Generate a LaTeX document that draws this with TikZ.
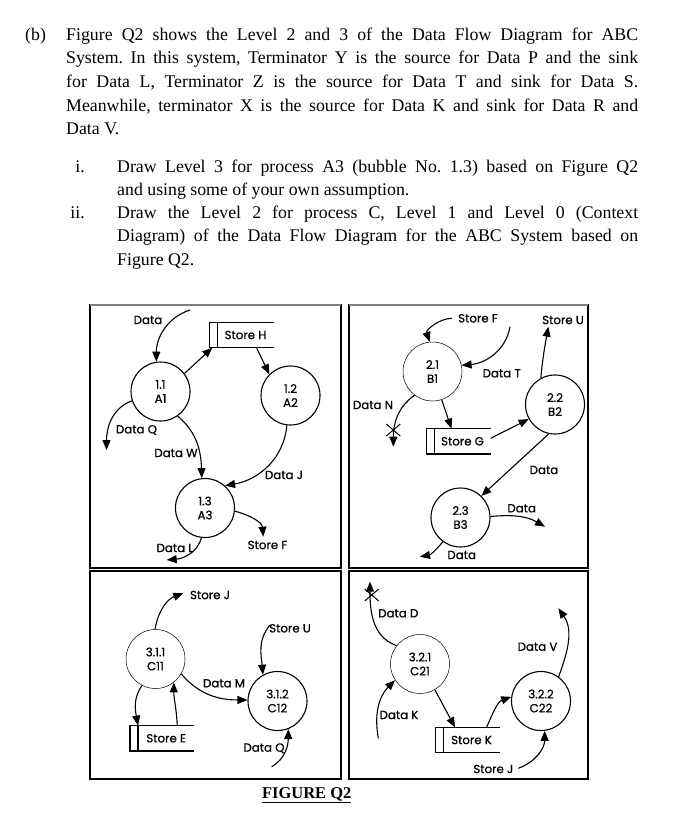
\documentclass[tikz,border=0pt]{standalone}
\usepackage{fontspec}
\setmainfont{Liberation Serif}
\newfontfamily\dfdfont[FakeBold=0.7]{Poppins}
\usetikzlibrary{arrows.meta}
\frenchspacing

\tikzset{
  >={Triangle[length=10pt,width=8pt]},
  dfdtext/.style={font=\dfdfont\fontsize{11.8}{14}\selectfont},
  bubble/.style={circle, draw, line width=1.1pt, minimum size=59pt, inner sep=0pt, align=center, dfdtext},
  thinbubble/.style={bubble, line width=0.5pt},
  storebox/.style={minimum width=56pt, minimum height=25pt, inner sep=0pt, dfdtext},
  storeline/.style={line width=1.1pt},
  lbl/.style={inner sep=0pt, dfdtext},
  flow/.style={->, line width=1.1pt},
  xmark/.style={line width=1pt},
  panel/.style={line width=1.5pt},
  question/.style={inner sep=0pt, font=\fontsize{17.8}{23.6}\selectfont},
}

\begin{document}
\begin{tikzpicture}[x=1pt,y=1pt]
    \useasboundingbox (0,0) rectangle (681,-822);

    % question text
    \node[question, anchor=base west] (partb) at (25,-40) {(b)};
    \node[question, anchor=north west, text width=572pt, align=justify] (intro) at (66,-23.5)
        {\tolerance=9999\hbadness=10000\strut Figure Q2 shows the Level 2 and 3 of the Data Flow Diagram for ABC\linebreak
         System. In this system, Terminator Y is the source for Data P and the sink\linebreak
         for Data L, Terminator Z is the source for Data T and sink for Data S.\linebreak
         Meanwhile, terminator X is the source for Data K and sink for Data R and\linebreak
         Data V.};
    \node[question, anchor=base east] (itemi) at (85,-172) {i.};
    \node[question, anchor=north west, text width=521pt, align=justify] (taski) at (117,-155.5)
        {\tolerance=9999\hbadness=10000\strut Draw Level 3 for process A3 (bubble No. 1.3) based on Figure Q2\linebreak
         and using some of your own assumption.};
    \node[question, anchor=base east] (itemii) at (85,-218) {ii.};
    \node[question, anchor=north west, text width=521pt, align=justify] (taskii) at (117,-201.5)
        {\tolerance=9999\hbadness=10000\strut Draw the Level 2 for process C, Level 1 and Level 0 (Context\linebreak
         Diagram) of the Data Flow Diagram for the ABC System based on\linebreak
         Figure Q2.};

    % panels
    \draw[panel] (90,-305) rectangle (341,-568);
    \draw[panel] (349,-305) rectangle (588,-568);
    \draw[panel] (90,-571) rectangle (341,-779);
    \draw[panel] (349,-571) rectangle (588,-779);
    \draw[panel, gray] (90,-305) -- (341,-305) (349,-305) -- (588,-305);

    % process A
    \node[bubble] (a11) at (160.5,-391.5) {1.1\\A1};
    \node[bubble] (a12) at (290.5,-395.5) {1.2\\A2};
    \node[bubble] (a13) at (205,-508) {1.3\\A3};
    \node[storebox] (sh) at (245.5,-335) {Store H};
    \draw[storeline] (sh.north east) -- ([xshift=-8pt]sh.north west) -- ([xshift=-8pt]sh.south west) -- (sh.south east);
    \draw[storeline] (sh.north west) -- (sh.south west);

    \coordinate (dsrc) at (190,-310);
    \node[lbl] (ldata) at (148,-320) {Data};
    \draw[flow] (dsrc) to[out=198,in=90] (a11.98);
    \draw[flow] (a11.37) -- ([xshift=-5pt]sh.south west);
    \draw[flow] ([xshift=11pt]sh.south) -- (a12.135);
    \coordinate (dqend) at (106.5,-450);
    \node[lbl] (ldq) at (136.5,-430) {Data Q};
    \draw[flow] (a11.198) to[out=200,in=90] (dqend);
    \node[lbl] (ldw) at (176,-453) {Data W};
    \draw[flow] (a11.305) to[out=-40,in=92] (a13.96);
    \node[lbl] (ldj) at (284,-475) {Data J};
    \draw[flow] (a12.263) to[out=265,in=10] (a13.48);
    \coordinate (sfend) at (263.3,-536.7);
    \node[lbl] (lsf) at (267.5,-545) {Store F};
    \draw[flow] (a13.-6) to[out=-15,in=95] (sfend);
    \coordinate (dlend) at (166.7,-560);
    \node[lbl] (ldl) at (175,-548) {Data L};
    \draw[flow] (a13.263) to[out=255,in=5] (dlend);

    % process B
    \node[thinbubble] (b21) at (432.5,-371.5) {2.1\\B1};
    \node[bubble] (b22) at (555,-404.5) {2.2\\B2};
    \node[bubble] (b23) at (460.5,-517.5) {2.3\\B3};
    \node[storebox] (sg) at (462.5,-441.3) {Store G};
    \draw[storeline] (sg.north east) -- ([xshift=-8pt]sg.north west) -- ([xshift=-8pt]sg.south west) -- (sg.south east);
    \draw[storeline] (sg.north west) -- (sg.south west);

    \coordinate (sfsrc) at (452,-318.3);
    \node[lbl, anchor=west] (lsf2) at (458,-318.3) {Store F};
    \draw[flow] (sfsrc) to[out=180,in=110] (b21.95);
    \coordinate (dtsrc) at (510,-326.7);
    \node[lbl] (ldt) at (501.7,-373.3) {Data T};
    \draw[flow] (dtsrc) to[out=260,in=5] (b21.12);
    \coordinate (suend) at (548.3,-326.7);
    \node[lbl] (lsu) at (563,-320) {Store U};
    \draw[flow] (b22.118) to[out=85,in=260] (suend);
    \coordinate (dnend) at (393.3,-446.7);
    \coordinate (dnx) at (393.3,-430);
    \node[lbl] (ldn) at (373,-405) {Data N};
    \draw[flow] (b21.233) to[out=215,in=90] (dnend);
    \draw[xmark] ([shift={(-7,6)}]dnx) -- ([shift={(7,-6)}]dnx) ([shift={(-7,-6)}]dnx) -- ([shift={(7,6)}]dnx);
    \draw[flow] (b21.288) -- ([xshift=-11pt]sg.north);
    \draw[flow] ([yshift=3pt]sg.east) -- (b22.209);
    \node[lbl] (ld22) at (544,-470) {Data};
    \draw[flow] (b22.258) -- (b23.46);
    \coordinate (drend) at (545,-526.7);
    \node[lbl] (ldr) at (521.7,-508.3) {Data};
    \draw[flow] (b23.2) to[out=5,in=150] (drend);
    \coordinate (dblend) at (420,-556.7);
    \node[lbl] (ldbl) at (461.7,-555) {Data};
    \draw[flow] (b23.234) to[out=230,in=10] (dblend);

    % process C1
    \node[thinbubble] (c311) at (155.5,-659) {3.1.1\\C11};
    \node[bubble] (c312) at (277.5,-701) {3.1.2\\C12};
    \node[storebox] (se) at (166.2,-738.3) {Store E};
    \draw[storeline] (se.north east) -- ([xshift=-8pt]se.north west) -- ([xshift=-8pt]se.south west) -- (se.south east);
    \draw[storeline] (se.north west) -- (se.south west);

    \coordinate (sjend) at (183.3,-593.3);
    \node[lbl] (lsj) at (210,-595) {Store J};
    \draw[flow] (c311.91) to[out=80,in=200] (sjend);
    \coordinate (susrc) at (270,-625);
    \node[lbl] (lsu3) at (290,-628.3) {Store U};
    \draw[flow] (susrc) to[out=230,in=95] (c312.119);
    \node[lbl] (ldm) at (224,-683.3) {Data M};
    \draw[flow] (c311.330) to[out=-50,in=180] (c312.178);
    \draw[flow] (c311.243) to[out=235,in=100] (se.north west);
    \draw[flow] ([xshift=11pt]se.north) to[out=92,in=-90] (c311.-52);
    \coordinate (dqsrc) at (271.7,-766.7);
    \node[lbl] (ldq3) at (264,-748.3) {Data Q};
    \draw[flow] (dqsrc) to[out=30,in=-90] (c312.-69);

    % process C2
    \node[thinbubble] (c321) at (420,-664) {3.2.1\\C21};
    \node[bubble] (c322) at (541,-701) {3.2.2\\C22};
    \node[storebox] (sk) at (471.5,-740) {Store K};
    \draw[storeline] (sk.north east) -- ([xshift=-8pt]sk.north west) -- ([xshift=-8pt]sk.south west) -- (sk.south east);
    \draw[storeline] (sk.north west) -- (sk.south west);

    \coordinate (ddend) at (370,-581.7);
    \coordinate (ddx) at (371.7,-595);
    \node[lbl] (ldd) at (398.3,-613.3) {Data D};
    \draw[flow] (c321.142) to[out=160,in=-90] (ddend);
    \draw[xmark] ([shift={(-7,6)}]ddx) -- ([shift={(7,-6)}]ddx) ([shift={(-7,-6)}]ddx) -- ([shift={(7,6)}]ddx);
    \coordinate (dksrc) at (378.3,-738.3);
    \node[lbl] (ldk) at (399,-715) {Data K};
    \draw[flow] (dksrc) to[out=100,in=225] (c321.213);
    \draw[flow] (c321.300) -- ([xshift=-16.5pt]sk.north);
    \draw[flow] ([xshift=15pt]sk.north) to[out=65,in=200] (c322.172);
    \coordinate (dvend) at (558.3,-608.3);
    \node[lbl] (ldv) at (537.5,-646.7) {Data V};
    \draw[flow] (c322.54) to[out=70,in=-55] (dvend);
    \coordinate (sj4src) at (518.3,-768.3);
    \node[lbl] (lsj4) at (493.3,-769) {Store J};
    \draw[flow] (sj4src) to[out=20,in=-90] (c322.-83);

    \node[anchor=base, inner sep=0pt, font=\bfseries\fontsize{16.5}{20}\selectfont] (caption) at (306.7,-798.5) {\underline{FIGURE Q2}};
\end{tikzpicture}
\end{document}
